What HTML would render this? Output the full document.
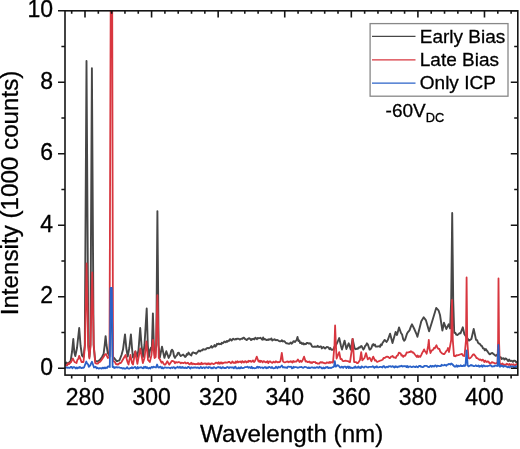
<!DOCTYPE html>
<html><head><meta charset="utf-8"><style>
html,body{margin:0;padding:0;background:#fff;}
body{width:520px;height:449px;overflow:hidden;}
svg{display:block;}
text{font-family:"Liberation Sans",Arial,sans-serif;fill:#000;stroke:#000;stroke-width:0.3px;}
</style></head><body>
<svg width="520" height="449" viewBox="0 0 520 449">
<defs><clipPath id="c"><rect x="65.0" y="10.8" width="452.80" height="364.30"/></clipPath></defs>
<rect width="520" height="449" fill="#fff"/>
<g clip-path="url(#c)" fill="none" stroke-width="1.8" stroke-linejoin="round" stroke-linecap="round">
<path stroke="#474747" stroke-width="1.9" d="M65.5 363.5L66.3 362.5L67.2 364.0L68.0 363.0L68.8 363.3L69.7 361.7L70.5 362.0L72.0 352.0L73.3 339.0L74.3 352.0L75.3 356.0L77.0 348.0L79.2 328.0L80.6 346.0L82.0 355.5L83.5 357.0L84.8 345.0L86.5 61.0L88.3 345.0L89.4 357.0L90.4 345.0L91.9 68.3L93.6 345.0L95.2 361.0L97.5 361.5L99.7 360.0L102.0 357.0L103.6 354.0L104.7 345.0L105.6 336.2L106.5 345.0L107.8 353.0L109.5 356.0L111.0 300.0L111.6 300.0L112.8 356.7L114.9 359.0L116.7 361.2L117.6 361.0L118.5 360.6L119.4 360.5L121.5 355.0L123.0 349.6L125.0 334.4L126.3 348.0L127.7 356.5L129.3 348.0L130.9 334.4L132.0 348.0L133.0 357.5L134.5 354.0L135.5 351.4L137.0 357.0L138.5 350.0L140.2 328.0L141.5 345.0L142.9 357.0L144.5 345.0L146.7 308.5L147.8 345.0L148.8 357.0L150.0 350.0L150.9 347.8L151.8 350.0L152.9 313.4L154.0 350.0L155.0 356.7L156.3 345.0L157.4 211.1L158.6 345.0L159.8 357.5L162.0 346.8L164.4 357.9L166.3 351.2L168.7 357.9L169.5 356.2L170.4 354.5L171.2 350.8L172.1 349.7L173.1 351.3L174.0 356.0L175.0 357.9L176.0 356.1L176.9 355.3L177.9 353.0L178.9 352.8L179.8 354.9L180.8 356.0L183.2 354.5L185.1 356.9L185.9 356.4L186.8 354.1L187.7 354.7L188.5 352.6L190.4 355.0L191.3 355.5L192.3 352.9L193.2 352.4L194.2 353.0L195.2 353.0L196.1 353.8L197.1 352.6L199.0 350.5L200.0 351.4L200.8 350.8L201.6 350.2L202.4 350.4L203.2 349.1L204.0 349.3L204.9 349.6L205.7 349.4L206.5 348.5L207.3 348.2L208.1 347.9L208.9 348.3L209.7 347.8L210.5 347.1L211.3 346.1L212.1 347.7L212.9 346.6L213.8 346.5L214.6 345.0L215.4 346.6L216.2 345.9L217.0 343.8L217.8 344.3L218.6 343.6L219.4 344.2L220.2 343.9L221.0 344.2L221.8 342.7L222.7 343.3L223.5 342.7L224.3 341.5L225.1 341.9L225.9 342.3L226.7 341.1L227.5 341.7L228.3 340.7L229.1 340.7L229.9 339.2L230.7 339.5L231.6 340.6L232.4 339.5L233.2 338.7L234.0 339.4L234.8 339.6L235.6 338.9L236.4 339.3L237.3 338.6L238.1 338.8L239.0 338.9L239.8 339.6L240.7 339.0L241.5 338.6L242.4 338.9L243.2 337.8L244.1 337.8L244.9 338.9L245.8 339.4L246.7 340.1L247.6 339.1L248.4 338.6L249.3 338.1L250.2 338.9L251.1 340.1L252.0 338.9L252.8 339.4L253.6 338.7L254.4 339.4L255.3 337.7L256.1 338.3L256.9 339.2L257.7 338.0L258.6 338.3L259.5 338.1L260.4 337.8L261.3 338.6L262.2 339.7L263.1 337.5L264.0 339.5L264.9 338.9L265.7 339.7L266.5 340.0L267.3 339.7L268.1 340.0L268.9 339.3L269.8 339.5L270.6 339.3L271.4 338.5L272.2 340.5L273.0 339.8L273.8 339.8L274.6 339.2L275.4 340.1L276.2 340.2L277.0 340.0L277.8 340.2L278.7 340.8L279.5 341.2L280.3 341.3L281.1 341.1L281.9 340.2L282.7 341.5L283.6 341.1L284.5 341.2L285.4 342.4L286.3 343.3L287.2 343.3L288.1 343.6L289.0 343.8L289.9 343.3L290.8 342.5L291.6 343.7L292.4 343.1L293.3 341.4L294.1 341.1L295.0 342.0L296.6 340.0L297.5 337.0L298.4 341.0L299.3 340.6L300.2 343.1L301.1 342.6L302.0 344.0L303.0 343.1L303.9 344.4L304.9 343.8L305.9 344.2L306.8 342.9L307.7 342.9L308.6 343.6L309.5 343.3L310.4 343.4L311.2 344.6L312.1 346.5L313.0 346.9L314.0 346.8L314.9 346.5L315.9 346.8L316.9 346.9L317.7 345.8L318.5 346.8L319.4 347.0L320.2 346.5L321.0 346.4L321.8 348.4L322.6 347.5L323.4 346.9L324.3 347.9L325.1 348.5L325.9 347.8L326.8 346.9L327.7 347.1L328.6 347.6L329.4 349.2L330.3 348.1L331.2 349.6L332.1 349.8L333.0 349.6L333.8 348.5L334.7 346.5L335.5 346.0L337.5 342.0L339.2 338.0L341.0 346.0L342.0 349.5L344.6 340.6L346.4 349.0L348.7 343.3L350.8 349.6L352.6 338.9L354.5 347.8L355.4 349.2L356.2 349.0L357.1 348.5L358.0 348.7L358.9 347.4L359.8 347.7L360.6 346.4L361.5 346.0L363.4 349.6L364.3 348.2L365.1 346.0L366.0 345.2L366.9 343.3L367.8 344.3L368.7 347.0L369.6 349.6L370.5 349.3L371.5 347.8L372.4 345.0L373.3 344.1L374.1 345.4L375.0 344.6L375.8 346.6L376.7 346.6L377.5 346.5L378.3 346.4L379.2 346.2L380.0 346.9L380.8 344.4L381.7 345.2L382.5 343.0L384.7 339.9L386.5 342.0L387.8 340.0L390.1 333.7L392.5 343.0L395.6 332.0L397.0 335.0L399.0 327.4L401.0 333.0L402.1 334.5L403.1 338.9L404.2 340.7L405.1 339.6L406.1 336.5L407.1 333.4L408.0 332.0L408.8 331.3L409.6 330.1L410.4 327.9L411.2 325.9L412.0 324.3L414.3 329.0L415.3 331.3L416.4 333.8L417.4 336.8L421.3 321.2L423.7 317.3L426.0 320.4L429.1 331.3L432.2 321.2L436.2 307.9L438.5 310.3L440.0 315.0L442.4 330.6L444.0 322.8L446.3 329.0L448.6 324.3L450.1 328.4L451.2 300.0L452.2 212.9L453.2 300.0L454.2 332.8L455.3 332.8L456.3 334.7L457.4 335.0L458.4 334.3L459.5 333.2L460.5 333.4L462.8 327.3L464.4 334.3L466.7 337.4L469.0 340.6L471.4 339.0L473.7 328.9L476.0 339.8L477.1 340.2L478.1 342.8L479.2 343.7L480.1 344.2L481.1 345.6L482.0 346.1L483.0 348.4L483.9 348.4L484.8 350.3L485.8 349.1L486.7 350.4L487.7 351.7L488.6 353.0L489.5 354.3L490.4 354.0L491.4 353.1L492.3 353.0L493.2 353.8L494.1 354.5L495.1 355.3L496.0 355.8L497.0 354.7L497.9 355.4L498.8 356.9L499.8 357.1L500.7 357.2L501.7 359.0L502.6 358.5L503.5 358.2L504.5 359.6L505.4 358.4L506.4 358.9L507.3 360.0L508.2 361.1L509.2 359.6L510.1 361.1L511.1 360.9L512.0 360.8L512.9 361.8L513.7 360.8L514.6 360.8L515.4 360.9L516.3 362.4L517.1 361.9L518.0 361.8"/>
<path stroke="#d8363f" d="M65.5 364.8L66.4 365.5L67.2 365.3L68.1 363.3L69.0 364.0L71.0 362.0L72.9 358.5L74.5 362.0L76.5 363.0L77.4 359.8L78.3 358.9L79.2 355.8L81.5 362.0L83.5 362.0L85.0 345.0L86.6 263.4L88.2 345.0L89.4 358.5L90.6 345.0L92.2 272.3L93.8 345.0L95.2 363.0L96.1 363.6L97.1 363.7L98.0 363.5L98.9 362.2L99.8 362.0L100.6 361.1L101.5 360.0L103.5 357.0L105.0 354.5L106.0 354.0L107.8 358.0L109.5 357.0L110.7 0.0L112.2 0.0L113.0 360.0L113.9 361.5L114.9 362.0L115.8 364.0L118.0 364.5L118.9 363.7L119.8 363.0L120.6 363.1L121.5 362.0L123.5 358.5L125.6 355.0L127.5 362.0L128.5 364.5L130.4 355.0L132.0 363.0L133.0 364.5L135.2 351.5L137.4 363.9L140.2 348.5L142.9 363.0L144.5 358.0L146.4 341.5L148.0 360.0L149.8 362.0L151.5 355.0L153.0 339.8L154.5 358.0L155.7 357.0L157.4 295.1L158.8 358.0L160.0 359.5L161.5 362.7L162.5 361.7L163.5 363.7L164.4 364.5L165.4 364.6L167.3 361.3L169.2 364.6L170.1 363.4L171.1 362.0L172.0 360.8L173.0 361.1L174.0 361.5L175.0 363.2L176.0 362.0L176.9 362.5L177.9 362.3L178.8 362.0L179.8 362.3L180.8 363.4L181.7 362.7L182.6 362.9L183.4 363.1L184.3 362.7L185.1 362.4L186.0 363.5L186.9 363.1L187.8 362.7L188.6 363.5L189.5 364.4L190.4 363.8L191.2 362.8L192.1 364.2L193.0 363.4L193.9 364.0L194.8 363.9L195.6 364.3L196.5 364.0L197.4 364.0L198.2 363.2L199.1 364.4L200.0 363.5L200.8 364.4L201.6 362.8L202.4 364.0L203.2 363.9L204.0 363.4L204.8 363.6L205.6 363.5L206.4 364.3L207.2 363.5L208.0 364.2L208.8 363.2L209.6 364.3L210.4 364.3L211.2 363.4L212.0 363.5L212.8 363.6L213.6 364.2L214.4 363.8L215.2 363.2L216.1 362.6L216.9 362.8L217.7 363.5L218.5 362.3L219.3 363.8L220.1 362.4L220.9 363.6L221.8 362.4L222.6 363.6L223.4 363.0L224.2 362.6L225.0 362.5L225.8 362.5L226.7 362.7L227.5 362.6L228.3 362.0L229.2 361.8L230.0 362.4L230.8 363.2L231.7 362.5L232.5 361.4L233.3 362.9L234.2 362.6L235.0 363.0L235.8 361.5L236.7 362.6L237.5 361.2L238.3 362.4L239.2 361.6L240.0 362.0L240.8 361.4L241.6 362.7L242.4 361.1L243.2 361.9L244.0 362.5L244.8 361.3L245.6 361.2L246.4 362.5L247.2 361.5L248.0 362.1L248.8 360.7L249.6 361.3L250.4 360.9L251.2 361.9L252.0 361.5L253.0 360.5L254.0 362.1L255.0 361.0L256.8 356.7L258.5 361.5L259.3 360.6L260.1 362.1L260.9 360.7L261.8 361.3L262.6 362.4L263.4 361.2L264.2 361.3L265.0 362.0L265.8 362.4L266.7 361.9L267.5 361.2L268.3 363.1L269.2 361.5L270.0 361.3L270.8 362.0L271.7 362.6L272.5 362.9L273.3 361.6L274.2 362.1L275.0 362.5L275.9 361.3L276.8 361.9L277.8 362.3L278.7 362.0L279.6 362.1L280.5 361.0L281.8 352.8L283.0 361.5L283.9 362.1L284.8 362.3L285.6 362.1L286.5 361.7L287.4 361.3L288.2 362.2L289.1 361.6L290.0 362.0L290.8 361.1L291.6 361.8L292.4 362.6L293.2 361.0L294.1 361.9L294.9 361.4L295.7 361.6L296.5 361.5L297.9 359.4L299.5 362.0L300.5 360.8L301.5 361.9L302.5 360.5L304.1 356.7L305.6 361.5L306.5 361.2L307.4 362.1L308.3 362.0L309.3 361.4L310.2 362.7L311.1 362.1L312.0 363.0L312.8 362.1L313.6 362.0L314.4 362.2L315.2 362.0L316.0 363.1L316.8 362.8L317.6 363.7L318.4 363.5L319.2 363.6L320.0 362.6L320.8 362.1L321.7 362.6L322.5 362.2L323.3 362.9L324.2 363.0L325.0 363.4L325.8 363.3L326.7 362.4L327.5 362.7L328.3 363.0L329.2 362.0L330.0 363.0L331.0 361.9L332.0 362.5L333.0 362.5L334.5 345.0L335.1 325.5L335.9 345.0L336.6 358.5L338.0 355.0L339.2 352.2L340.5 359.0L341.6 359.0L342.6 360.9L343.7 361.2L344.6 360.8L345.5 360.6L346.4 360.9L347.3 361.1L348.2 361.2L349.1 361.9L350.0 362.0L351.8 350.0L352.6 338.9L353.4 350.0L354.1 362.0L355.1 362.2L356.1 362.1L357.0 363.0L358.0 363.0L360.0 360.0L361.2 352.2L362.3 360.3L364.5 358.0L366.0 353.1L367.8 359.4L369.6 357.6L371.4 361.2L373.2 356.7L375.0 360.5L375.8 360.1L376.6 361.6L377.4 361.8L378.2 361.5L379.0 361.2L380.0 360.7L381.0 360.4L382.0 360.0L382.8 359.5L383.6 357.9L384.5 358.0L385.3 357.6L386.1 356.9L387.2 356.6L388.2 356.8L389.3 358.0L390.1 358.1L391.0 356.7L391.8 356.5L392.6 355.9L393.6 357.4L394.7 357.5L395.7 358.0L396.8 355.8L397.8 355.4L398.9 352.6L399.8 353.2L400.6 353.4L401.5 355.6L402.3 355.2L403.2 356.9L404.1 355.7L404.9 355.9L405.8 354.7L406.6 352.5L407.5 352.6L408.3 352.3L409.2 352.0L410.0 352.0L410.9 351.2L411.7 351.6L412.6 352.6L413.4 352.5L414.3 353.7L415.1 354.8L416.0 355.9L416.9 357.0L417.7 355.5L418.6 357.0L419.4 356.1L420.3 356.9L421.2 355.2L422.2 352.9L423.2 351.2L424.1 349.4L425.0 351.3L425.8 352.1L426.7 353.7L428.3 345.0L428.8 339.8L429.4 348.0L430.5 353.0L431.3 351.2L432.2 350.2L433.0 350.0L433.9 348.0L434.8 348.3L435.6 346.7L436.5 345.2L437.4 347.7L438.4 348.8L439.4 349.0L440.3 351.6L441.3 352.6L442.2 353.5L443.2 354.0L444.2 354.2L445.2 352.8L446.3 351.1L447.3 350.0L448.0 348.0L449.0 352.0L451.2 340.0L452.0 300.0L452.8 340.0L454.0 356.0L454.9 355.8L455.7 356.3L456.5 355.1L457.4 355.4L458.3 355.2L459.1 354.8L460.0 354.5L462.0 353.8L462.8 355.4L463.7 355.9L464.5 356.0L466.0 340.0L466.6 277.5L467.2 340.0L468.5 358.0L469.4 358.5L470.4 358.0L471.3 357.0L472.2 355.7L473.0 354.6L473.9 354.2L474.8 355.4L475.6 356.3L476.5 358.0L477.4 358.2L478.4 359.1L479.4 359.9L480.3 359.4L481.1 359.9L481.9 360.7L482.7 359.6L483.6 360.4L484.4 362.0L485.2 360.6L486.0 361.5L486.8 362.0L487.7 361.3L488.5 361.5L489.4 363.2L490.2 363.6L491.1 363.0L491.9 362.1L492.8 362.6L493.6 362.6L494.5 363.3L495.5 363.4L496.5 363.1L497.5 362.5L498.1 340.0L498.5 278.4L499.0 340.0L499.8 364.0L500.7 364.0L501.5 364.2L502.4 363.5L503.3 364.4L504.1 365.3L505.0 364.5L505.9 365.0L506.8 363.7L507.6 364.5L508.5 364.9L509.4 364.0L510.2 365.3L511.1 364.4L512.0 364.5L512.9 364.9L513.7 364.3L514.6 365.5L515.4 365.1L516.3 364.6L517.1 363.8L518.0 364.5"/>
<path stroke="#2a62c8" d="M65.5 367.8L66.4 367.3L67.2 367.8L68.1 367.5L69.0 367.9L69.8 367.9L70.7 366.9L71.5 366.8L72.4 368.3L73.3 367.2L74.1 367.1L75.0 367.6L75.8 368.5L76.6 367.5L77.5 368.2L78.3 367.5L79.1 367.8L79.9 366.9L80.7 367.8L81.5 368.2L82.4 367.6L83.2 367.9L84.0 367.5L86.3 361.5L87.1 363.6L88.0 364.2L88.8 366.8L89.4 366.4L90.3 365.3L91.1 363.4L92.0 361.7L94.0 367.5L94.9 367.2L95.7 366.8L96.6 368.4L97.4 367.7L98.3 368.3L99.1 368.6L100.0 368.0L100.9 368.3L101.7 368.6L102.6 367.6L103.4 368.3L104.3 367.5L105.1 368.4L106.0 367.5L107.0 368.1L107.9 366.5L108.8 366.5L109.8 367.0L110.6 287.9L111.8 287.9L112.6 367.0L113.4 366.6L114.2 368.0L115.1 367.2L115.9 367.6L116.7 367.1L117.5 367.5L118.4 367.4L119.2 367.4L120.0 367.8L120.8 367.9L121.6 367.9L122.4 368.5L123.2 368.1L124.0 368.6L124.8 368.4L125.6 368.7L126.4 368.1L127.2 367.2L128.0 368.4L128.8 368.6L129.6 368.5L130.4 367.9L131.2 368.1L132.0 367.2L132.8 368.3L133.6 367.9L134.4 367.3L135.2 366.9L136.0 368.4L136.8 368.6L137.6 367.0L138.4 368.2L139.2 367.5L140.0 367.7L140.8 367.1L141.6 367.3L142.4 368.2L143.2 368.3L144.0 366.8L144.8 367.8L145.6 366.8L146.4 368.0L147.2 367.3L148.0 368.3L148.8 368.5L149.6 367.6L150.4 368.5L151.2 367.2L152.0 366.8L152.8 367.7L153.6 366.7L154.4 367.0L155.2 367.3L156.0 367.5L157.1 364.5L158.2 367.5L159.0 367.7L159.8 366.9L160.6 366.7L161.4 368.2L162.2 367.2L163.0 368.4L163.8 368.3L164.6 367.3L165.4 367.5L166.2 367.6L167.0 367.8L167.8 367.7L168.6 367.7L169.5 367.8L170.3 368.4L171.1 367.6L171.9 367.5L172.7 368.0L173.5 367.1L174.3 367.3L175.1 368.5L175.9 367.7L176.7 367.7L177.5 366.8L178.3 367.5L179.1 367.8L179.9 366.8L180.7 367.9L181.5 367.9L182.3 366.9L183.1 367.9L183.9 367.6L184.7 368.0L185.5 367.4L186.3 368.1L187.1 368.1L187.9 366.9L188.7 366.9L189.6 368.0L190.4 368.6L191.2 367.3L192.0 367.7L192.8 367.9L193.6 367.4L194.4 367.5L195.2 367.4L196.0 367.5L196.8 367.9L197.6 367.4L198.4 367.6L199.2 368.3L200.0 367.8L200.8 366.9L201.6 367.9L202.4 368.2L203.2 367.4L204.0 367.3L204.8 368.3L205.6 367.3L206.5 367.2L207.3 367.6L208.1 368.1L208.9 367.0L209.7 367.4L210.5 367.4L211.3 368.3L212.1 367.6L212.9 368.4L213.7 367.1L214.5 367.4L215.3 368.0L216.1 368.4L216.9 367.6L217.7 367.2L218.5 367.0L219.4 367.7L220.2 367.1L221.0 368.2L221.8 368.3L222.6 367.1L223.4 367.3L224.2 368.2L225.0 367.9L225.8 368.2L226.6 367.4L227.4 367.0L228.2 367.3L229.0 368.2L229.8 367.2L230.6 367.3L231.5 367.5L232.3 367.5L233.1 367.4L233.9 368.4L234.7 367.0L235.5 366.7L236.3 368.4L237.1 368.3L237.9 368.4L238.7 367.4L239.5 368.4L240.3 368.3L241.1 367.1L241.9 368.0L242.7 368.1L243.5 367.8L244.4 367.6L245.2 367.1L246.0 367.2L246.8 367.0L247.6 366.7L248.4 367.7L249.2 367.1L250.0 367.5L250.8 368.1L251.6 366.7L252.4 368.2L253.2 367.8L254.1 368.3L254.9 368.2L255.7 368.2L256.5 367.6L257.3 366.6L258.1 367.9L258.9 366.9L259.7 367.1L260.5 367.8L261.4 367.5L262.2 367.3L263.0 368.3L263.8 367.7L264.6 367.2L265.4 367.1L266.2 368.2L267.0 367.5L267.8 368.0L268.6 367.2L269.5 367.0L270.3 367.6L271.1 368.1L271.9 366.9L272.7 368.0L273.5 368.3L274.3 368.1L275.1 368.1L275.9 366.6L276.8 367.7L277.6 368.2L278.4 366.7L279.2 367.1L280.0 367.5L281.8 365.5L283.0 367.5L283.8 367.1L284.6 367.6L285.4 367.4L286.2 367.5L287.1 368.0L287.9 366.6L288.7 366.7L289.5 366.8L290.3 366.8L291.1 366.7L291.9 368.4L292.7 368.2L293.5 366.8L294.3 367.5L295.2 367.2L296.0 367.2L296.8 367.3L297.6 367.8L298.4 367.7L299.2 367.3L300.0 367.0L300.8 367.2L301.6 366.9L302.4 367.6L303.3 367.9L304.1 367.3L304.9 366.8L305.7 367.0L306.5 367.3L307.3 367.7L308.1 368.1L308.9 367.3L309.7 368.1L310.6 367.8L311.4 367.4L312.2 367.3L313.0 367.6L313.8 367.9L314.6 367.4L315.4 367.9L316.2 367.5L317.0 367.1L317.8 367.6L318.7 367.9L319.5 366.8L320.3 367.4L321.1 367.4L321.9 368.3L322.7 368.4L323.5 367.4L324.3 368.3L325.1 368.1L325.9 367.2L326.8 367.5L327.6 366.9L328.4 368.2L329.2 367.9L330.0 367.6L330.8 368.1L331.6 367.7L332.4 367.2L333.2 367.1L334.0 366.5L334.8 361.2L335.6 366.5L336.6 366.3L337.5 365.1L338.5 365.5L340.0 367.5L340.8 367.6L341.6 366.6L342.4 366.8L343.2 367.9L344.0 366.6L344.8 366.7L345.6 366.7L346.4 368.1L347.2 366.8L348.0 366.5L348.8 368.0L349.6 366.7L350.4 368.0L351.2 367.6L352.0 367.9L352.8 368.1L353.6 367.4L354.4 367.8L355.2 366.4L356.0 367.7L356.8 367.3L357.6 367.6L358.4 366.5L359.2 367.7L360.0 367.2L360.8 368.0L361.6 366.4L362.4 366.8L363.2 367.3L364.0 367.7L364.8 366.7L365.6 366.5L366.4 366.7L367.2 367.3L368.0 367.5L368.8 366.9L369.6 366.8L370.4 366.9L371.2 366.8L372.0 366.9L372.8 366.3L373.6 367.0L374.4 367.8L375.2 366.8L376.0 367.4L376.8 366.3L377.6 367.3L378.4 367.4L379.2 367.2L380.0 366.9L380.8 366.9L381.6 367.1L382.4 367.6L383.2 366.2L384.0 366.1L384.8 367.3L385.6 367.6L386.4 366.8L387.2 366.7L388.0 367.2L388.8 366.2L389.6 366.3L390.4 366.2L391.2 366.9L392.0 366.4L392.8 366.2L393.6 367.0L394.4 367.5L395.2 366.3L396.0 367.0L396.8 366.5L397.6 367.3L398.4 366.8L399.2 366.2L400.0 366.6L400.8 366.1L401.6 365.7L402.4 366.5L403.2 366.4L404.1 366.0L404.9 366.3L405.7 366.2L406.5 367.0L407.3 365.9L408.1 367.4L408.9 366.5L409.7 366.7L410.5 366.4L411.4 367.1L412.2 367.1L413.0 366.6L413.8 366.4L414.6 366.9L415.4 367.1L416.2 366.3L417.0 366.9L417.8 367.3L418.6 366.4L419.5 365.9L420.3 365.9L421.1 366.8L421.9 366.7L422.7 367.2L423.5 367.0L424.3 365.9L425.1 365.8L425.9 365.9L426.8 365.8L427.6 366.7L428.4 367.0L429.2 367.0L430.0 366.3L430.8 365.8L431.7 366.9L432.5 365.9L433.3 366.1L434.2 366.6L435.0 365.4L435.8 365.4L436.7 366.7L437.5 365.7L438.3 365.8L439.2 366.2L440.0 366.0L440.8 366.2L441.6 364.8L442.4 365.3L443.2 365.4L444.0 365.3L444.8 364.7L445.6 365.2L446.4 365.8L447.2 364.6L448.0 364.7L448.8 363.8L449.6 364.0L450.4 364.6L451.2 363.4L452.0 364.0L454.0 366.0L454.8 366.7L455.6 366.7L456.5 365.2L457.3 366.7L458.1 365.6L458.9 366.3L459.8 366.2L460.6 365.3L461.4 366.0L462.2 365.9L463.0 366.2L463.9 365.1L464.7 366.0L465.5 365.5L466.6 350.3L467.7 365.5L468.5 366.4L469.3 365.9L470.2 365.7L471.0 364.9L471.8 365.7L472.6 365.4L473.4 366.1L474.3 366.1L475.1 365.9L475.9 365.3L476.7 366.1L477.5 366.1L478.4 365.4L479.2 366.7L480.0 366.0L480.8 366.3L481.7 365.3L482.5 366.8L483.3 365.4L484.2 365.7L485.0 366.4L485.8 366.2L486.7 366.1L487.5 366.3L488.3 365.9L489.2 365.7L490.0 365.4L490.8 365.2L491.7 366.4L492.5 366.5L493.3 366.1L494.2 366.4L495.0 365.7L495.8 365.6L496.7 365.8L497.5 366.0L498.4 344.8L499.3 366.0L500.1 366.7L500.9 365.3L501.8 366.2L502.6 365.9L503.4 366.9L504.2 366.2L505.1 366.2L505.9 366.4L506.7 366.8L507.5 367.3L508.4 366.6L509.2 367.5L510.0 367.0L510.8 366.3L511.6 366.6L512.4 366.3L513.2 366.3L514.0 367.5L514.8 367.4L515.6 366.4L516.4 366.4L517.2 366.8L518.0 367.0"/>
</g>
<g fill="none" stroke="#151515" stroke-width="1.6">
<rect x="65.0" y="10.8" width="452.80" height="364.30"/>
<path d="M71.68 375.10V378.60M71.68 10.80V13.80M85.00 375.10V381.90M85.00 10.80V17.60M98.32 375.10V378.60M98.32 10.80V13.80M111.63 375.10V378.60M111.63 10.80V13.80M124.95 375.10V378.60M124.95 10.80V13.80M138.26 375.10V378.60M138.26 10.80V13.80M151.58 375.10V381.90M151.58 10.80V17.60M164.90 375.10V378.60M164.90 10.80V13.80M178.21 375.10V378.60M178.21 10.80V13.80M191.53 375.10V378.60M191.53 10.80V13.80M204.84 375.10V378.60M204.84 10.80V13.80M218.16 375.10V381.90M218.16 10.80V17.60M231.48 375.10V378.60M231.48 10.80V13.80M244.79 375.10V378.60M244.79 10.80V13.80M258.11 375.10V378.60M258.11 10.80V13.80M271.42 375.10V378.60M271.42 10.80V13.80M284.74 375.10V381.90M284.74 10.80V17.60M298.06 375.10V378.60M298.06 10.80V13.80M311.37 375.10V378.60M311.37 10.80V13.80M324.69 375.10V378.60M324.69 10.80V13.80M338.00 375.10V378.60M338.00 10.80V13.80M351.32 375.10V381.90M351.32 10.80V17.60M364.64 375.10V378.60M364.64 10.80V13.80M377.95 375.10V378.60M377.95 10.80V13.80M391.27 375.10V378.60M391.27 10.80V13.80M404.58 375.10V378.60M404.58 10.80V13.80M417.90 375.10V381.90M417.90 10.80V17.60M431.22 375.10V378.60M431.22 10.80V13.80M444.53 375.10V378.60M444.53 10.80V13.80M457.85 375.10V378.60M457.85 10.80V13.80M471.16 375.10V378.60M471.16 10.80V13.80M484.48 375.10V381.90M484.48 10.80V17.60M497.80 375.10V378.60M497.80 10.80V13.80M511.11 375.10V378.60M511.11 10.80V13.80M58.00 368.20H65.00M510.80 368.20H517.80M61.40 332.45H65.00M514.20 332.45H517.80M58.00 296.70H65.00M510.80 296.70H517.80M61.40 260.95H65.00M514.20 260.95H517.80M58.00 225.20H65.00M510.80 225.20H517.80M61.40 189.45H65.00M514.20 189.45H517.80M58.00 153.70H65.00M510.80 153.70H517.80M61.40 117.95H65.00M514.20 117.95H517.80M58.00 82.20H65.00M510.80 82.20H517.80M61.40 46.45H65.00M514.20 46.45H517.80M58.00 10.70H65.00M510.80 10.70H517.80"/>
</g>
<g font-size="23" text-anchor="middle"><text x="85.00" y="404.6">280</text><text x="151.58" y="404.6">300</text><text x="218.16" y="404.6">320</text><text x="284.74" y="404.6">340</text><text x="351.32" y="404.6">360</text><text x="417.90" y="404.6">380</text><text x="484.48" y="404.6">400</text></g>
<g font-size="23" text-anchor="end"><text x="53" y="374.80">0</text><text x="53" y="303.30">2</text><text x="53" y="231.80">4</text><text x="53" y="160.30">6</text><text x="53" y="88.80">8</text><text x="53" y="17.30">10</text></g>
<text x="291.7" y="442.3" font-size="24.2" text-anchor="middle">Wavelength (nm)</text>
<text transform="translate(18.3 193) rotate(-90)" font-size="24.2" text-anchor="middle">Intensity (1000 counts)</text>
<rect x="370.1" y="23.6" width="137.9" height="72.6" fill="#fff" stroke="#888" stroke-width="1.3"/>
<g stroke-width="1.25"><path d="M372 36.4H415.5" stroke="#474747"/><path d="M372 59.8H415.5" stroke="#d8363f"/><path d="M372 83.0H415.5" stroke="#2a62c8"/></g>
<g font-size="19"><text x="419.8" y="42.6">Early Bias</text><text x="419.8" y="66.0">Late Bias</text><text x="419.8" y="89.4">Only ICP</text></g>
<text x="385.6" y="116.9" font-size="19">-60V<tspan font-size="12.8" dy="4.9">DC</tspan></text>
</svg>
</body></html>
